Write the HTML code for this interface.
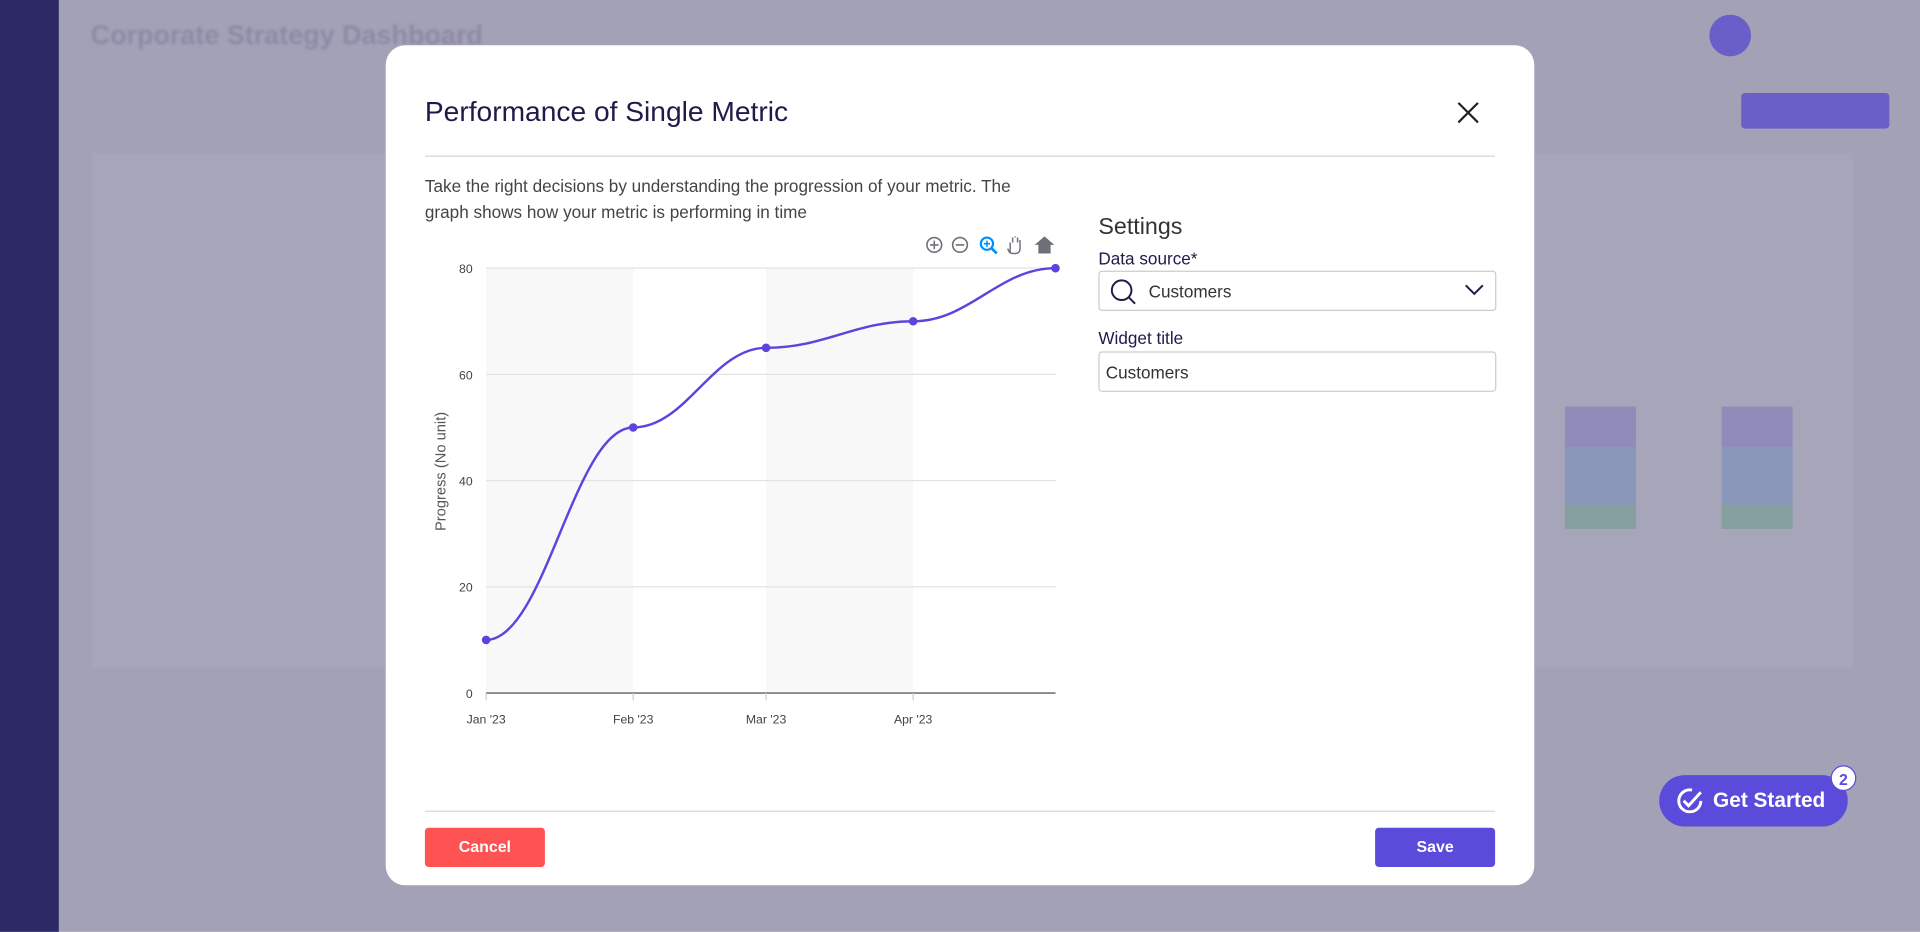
<!DOCTYPE html>
<html><head><meta charset="utf-8"><style>
html,body{margin:0;padding:0;width:1920px;height:932px;overflow:hidden;font-family:"Liberation Sans",sans-serif}
#root{position:absolute;left:0;top:0;width:1568px;height:761px;transform:scale(1.22449);transform-origin:0 0;background:#a3a1b6}
.abs{position:absolute}
</style></head><body>
<div id="root">
<div class="abs" style="left:0;top:0;width:48px;height:761px;background:#2c2966"></div>
<div class="abs" style="left:74px;top:16px;font-size:22px;color:#8d8aa6;font-weight:bold;filter:blur(1px)">Corporate Strategy Dashboard</div>
<div class="abs" style="left:75px;top:125px;width:240px;height:420px;background:#a7a5ba"></div>
<div class="abs" style="left:1253px;top:125px;width:260px;height:420px;background:#a7a5ba"></div>
<div class="abs" style="left:1278px;top:332px;width:58px;height:100px;background:linear-gradient(#908bb9 0 33%,#8a96ba 33% 80%,#86a0a0 80%)"></div>
<div class="abs" style="left:1406px;top:332px;width:58px;height:100px;background:linear-gradient(#908bb9 0 33%,#8a96ba 33% 80%,#86a0a0 80%)"></div>
<div class="abs" style="left:1422px;top:76px;width:121px;height:29px;background:#6a5fc8;border-radius:3px"></div>
<div class="abs" style="left:1396px;top:12px;width:34px;height:34px;border-radius:50%;background:#6a5fc8"></div>

<div class="abs" style="left:315px;top:37px;width:938px;height:686px;background:#fff;border-radius:16px">
  <div class="abs" style="left:32px;top:41px;font-size:23px;color:#1e1b4b">Performance of Single Metric</div>
  <div class="abs" style="left:872px;top:43px;width:24px;height:24px">
    <svg width="24" height="24"><path d="M4 4L20 20M20 4L4 20" stroke="#222" stroke-width="1.8"/></svg></div>
  <div class="abs" style="left:32px;top:90px;width:874px;height:1px;background:#d6d6d6"></div>
  <div class="abs" style="left:32px;top:105px;width:500px;font-size:14px;line-height:21px;color:#444">Take the right decisions by understanding the progression of your metric. The graph shows how your metric is performing in time</div>

  <div class="abs" style="left:582px;top:138px;font-size:19px;color:#333">Settings</div>
  <div class="abs" style="left:582px;top:166px;font-size:14px;color:#1e1b4b">Data source*</div>
  <div class="abs" style="left:582px;top:184px;width:323px;height:31px;border:1px solid #ccc;border-radius:3px">
    <svg class="abs" style="left:8px;top:5px" width="22" height="22"><circle cx="10" cy="10" r="8" fill="none" stroke="#1e1b4b" stroke-width="1.6"/><path d="M16 16L21 21" stroke="#1e1b4b" stroke-width="1.6"/></svg>
    <div class="abs" style="left:40px;top:8px;font-size:14px;color:#333">Customers</div>
    <svg class="abs" style="left:298px;top:9px" width="16" height="12"><path d="M1 2L8 9L15 2" fill="none" stroke="#1e1b4b" stroke-width="1.6"/></svg>
  </div>
  <div class="abs" style="left:582px;top:231px;font-size:14px;color:#1e1b4b">Widget title</div>
  <div class="abs" style="left:582px;top:250px;width:323px;height:31px;border:1px solid #ccc;border-radius:3px">
    <div class="abs" style="left:5px;top:8px;font-size:14px;color:#333">Customers</div></div>

  <div class="abs" style="left:32px;top:625px;width:874px;height:1px;background:#d6d6d6"></div>
  <div class="abs" style="left:32px;top:639px;width:98px;height:32px;background:#ff5252;border-radius:3px;color:#fff;font-size:13px;font-weight:bold;text-align:center;line-height:32px">Cancel</div>
  <div class="abs" style="left:808px;top:639px;width:98px;height:32px;background:#5b4bdb;border-radius:3px;color:#fff;font-size:13px;font-weight:bold;text-align:center;line-height:32px">Save</div>
</div>

<svg id="chart" class="abs" style="left:0;top:0" width="1568" height="761"></svg>

<div class="abs" style="left:1355px;top:633px;width:154px;height:42px;border-radius:21px;background:#5b4bdb;color:#fff;font-size:17px;font-weight:bold;line-height:42px">
  <svg class="abs" style="left:14px;top:10px" width="22" height="22"><circle cx="11" cy="11" r="9" fill="none" stroke="#fff" stroke-width="2.4" stroke-dasharray="44 13"/><path d="M6 11L10 15L20 4" fill="none" stroke="#fff" stroke-width="2.4"/></svg>
  <span class="abs" style="left:44px;top:0">Get Started</span></div>
<div class="abs" style="left:1495px;top:625px;width:21px;height:21px;border-radius:50%;background:#fff;color:#5b4bdb;font-size:13px;font-weight:bold;text-align:center;line-height:21px;border:1px solid #5b4bdb;box-sizing:border-box">2</div>
</div>

<script>
const categories = ["2023-01-01","2023-02-01","2023-03-01","2023-04-01","2023-05-01"];
const values = [10, 50, 65, 70, 80];
const tickLabels = ["Jan '23","Feb '23","Mar '23","Apr '23"];
const yTicks = [0, 20, 40, 60, 80];

const NS = "http://www.w3.org/2000/svg";
const svg = document.getElementById('chart');
const X0 = 397, X1 = 862, Y0 = 566, Y1 = 219;
const t0 = Date.parse(categories[0]), t1 = Date.parse(categories[categories.length-1]);
const yMax = yTicks[yTicks.length-1];
function xs(d){ return X0 + (Date.parse(d)-t0)/(t1-t0)*(X1-X0); }
function ys(v){ return Y0 - v/yMax*(Y0-Y1); }
function mk(tag, attrs){ const e=document.createElementNS(NS,tag); for(const k in attrs) e.setAttribute(k,attrs[k]); svg.appendChild(e); return e; }

for (let i=0;i<categories.length-1;i+=2){
  const b = mk('rect',{x:xs(categories[i]),y:Y1,width:xs(categories[i+1])-xs(categories[i]),height:Y0-Y1,fill:'#f8f8f8'});
  
  
}
yTicks.forEach(v=>{
  if (v>0){
    const g = mk('line',{x1:X0,x2:X1,y1:ys(v),y2:ys(v),stroke:'#e3e3e3','stroke-width':1});
    
    
  }
  const t = mk('text',{x:386,y:ys(v)+4,'text-anchor':'end','font-size':10,fill:'#444','font-family':'Liberation Sans, sans-serif'});
  t.textContent = v;
  
  
});
const ax = mk('line',{x1:X0,x2:X1,y1:Y0,y2:Y0,stroke:'#888','stroke-width':1.5});


tickLabels.forEach((lab,i)=>{
  const x = xs(categories[i]);
  const tk = mk('line',{x1:x,x2:x,y1:Y0,y2:Y0+6,stroke:'#ccc'});
  
  
  const t = mk('text',{x:x,y:Y0+25,'text-anchor':'middle','font-size':10,fill:'#444','font-family':'Liberation Sans, sans-serif'});
  t.textContent = lab;
  
  
});
const yt = mk('text',{x:0,y:0,transform:'translate(364,385) rotate(-90)','text-anchor':'middle','font-size':12,fill:'#555','font-family':'Liberation Sans, sans-serif'});
yt.textContent = 'Progress (No unit)';



// smooth curve with near-flat tangents at each point
const P = categories.map((c,i)=>[xs(c), ys(values[i])]);
const n=P.length;
let d='M'+P[0][0]+','+P[0][1];
for(let i=0;i<n-1;i++){
  const h=(P[i+1][0]-P[i][0])*0.4;
  d+=' C'+(P[i][0]+h)+','+P[i][1]+' '+(P[i+1][0]-h)+','+P[i+1][1]+' '+P[i+1][0]+','+P[i+1][1];
}
const line = mk('path',{d:d,fill:'none',stroke:'#5b45dc','stroke-width':2});


P.forEach(p=>{
  const c = mk('circle',{cx:p[0],cy:p[1],r:3.5,fill:'#5b45dc'});
  
  
});

const tb = [
  ['zoom-in-icon','<circle cx="0" cy="0" r="6" fill="none" stroke="#6e7079" stroke-width="1.3"/><path d="M-3.5 0H3.5M0 -3.5V3.5" stroke="#6e7079" stroke-width="1.3"/>',763],
  ['zoom-out-icon','<circle cx="0" cy="0" r="6" fill="none" stroke="#6e7079" stroke-width="1.3"/><path d="M-3.5 0H3.5" stroke="#6e7079" stroke-width="1.3"/>',784],
  ['selection-zoom-icon','<circle cx="-1" cy="-1" r="5" fill="none" stroke="#008ffb" stroke-width="1.8"/><path d="M3 3L7 7" stroke="#008ffb" stroke-width="2.2"/><path d="M-3.5 -1H1.5M-1 -3.5V1.5" stroke="#008ffb" stroke-width="1.3"/>',807],
  ['pan-icon','<path d="M-4 6V-2M-2 -2V-6M0 -6V-7M2 -6V-2M4 -4V3Q4 7 0 7H-2Q-5 7 -6 3" fill="none" stroke="#6e7079" stroke-width="1.2"/>',829],
  ['reset-home-icon','<path d="M-8 0L0 -7L8 0H5V7H-5V0Z" fill="#6e7079"/>',853]
];
tb.forEach(t=>{
  const g = mk('g',{transform:'translate('+t[2]+',200)'});
  g.innerHTML = t[1];
  
  
});
</script>
</body></html>
